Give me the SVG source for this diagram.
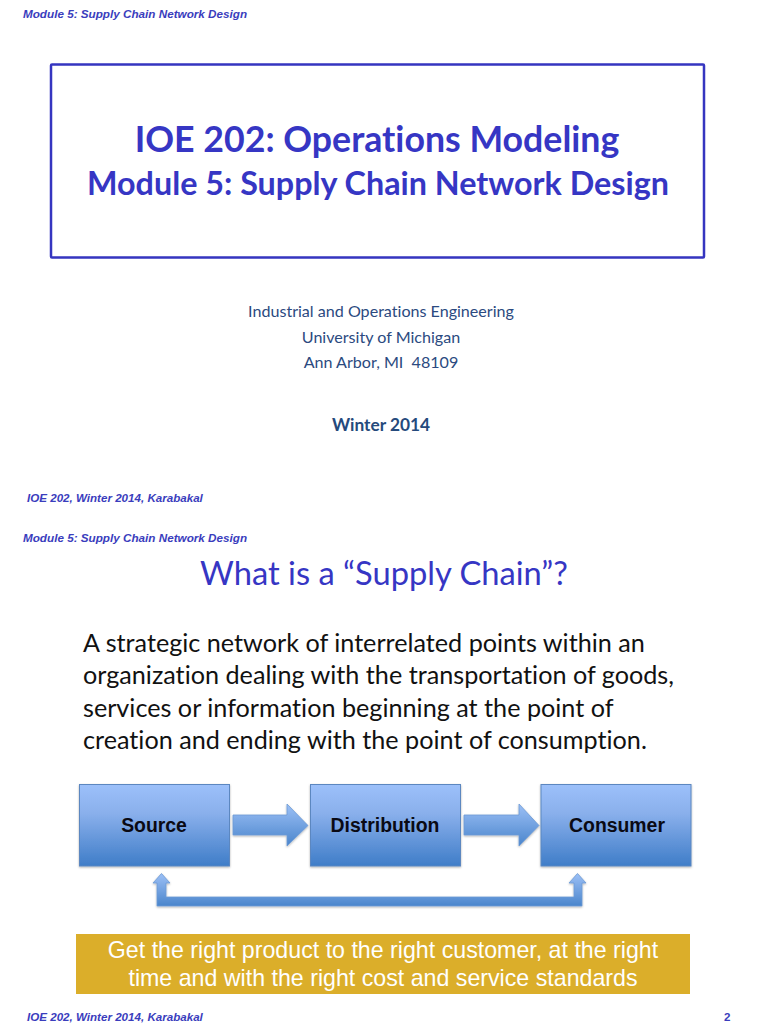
<svg xmlns="http://www.w3.org/2000/svg" width="768" height="1024" viewBox="0 0 768 1024">
<style>
text{font-variant-ligatures:none}
.hdr{font:italic bold 11.7px "Liberation Sans",Arial,sans-serif;fill:#3a3dbd}
.ftr{font:italic bold 11.6px "Liberation Sans",Arial,sans-serif;fill:#3a3dbd}
.t{font-family:Lato,sans-serif;text-anchor:middle}
.sub{font-size:16.1px;fill:#2b4a80}
.body{font-family:Lato,sans-serif;font-size:25.2px;fill:#111}
.box{fill:url(#g);stroke:#5b87c0;stroke-width:1;filter:url(#s)}
.lbl{font:bold 19.4px "Liberation Sans",Arial,sans-serif;fill:#0a0a14;text-anchor:middle}
.arr{fill:url(#g2);stroke:#6d9bd4;stroke-width:.8;filter:url(#s)}
.gold{font:23.2px "Liberation Sans",Arial,sans-serif;fill:#fff;text-anchor:middle}
</style>
<defs>
<linearGradient id="g" x1="0" y1="0" x2="0" y2="1"><stop offset="0" stop-color="#9cc0fa"/><stop offset=".35" stop-color="#8ab0ec"/><stop offset="1" stop-color="#3f7dc8"/></linearGradient>
<linearGradient id="g2" x1="0" y1="0" x2="0" y2="1"><stop offset="0" stop-color="#9cc0f6"/><stop offset="1" stop-color="#4a85cc"/></linearGradient>
<filter id="s" x="-5%" y="-5%" width="110%" height="115%"><feDropShadow dx="0" dy="1" stdDeviation="1" flood-color="#000" flood-opacity=".3"/></filter>
</defs>
<rect width="768" height="1024" fill="#fff"/>
<text class="hdr" x="23" y="18">Module 5: Supply Chain Network Design</text>
<rect x="51" y="64.500" width="653" height="193" fill="none" stroke="#3535c0" stroke-width="2.500" rx="1"/>
<text class="t" x="377" y="152" font-size="35.700" font-weight="700" fill="#3636c4">IOE 202: Operations Modeling</text>
<text class="t" x="378" y="195" font-size="32.300" font-weight="700" fill="#3636c4">Module 5: Supply Chain Network Design</text>
<text class="t sub" x="381" y="317">Industrial and Operations Engineering</text>
<text class="t sub" x="381" y="343">University of Michigan</text>
<text class="t sub" x="381" y="368" xml:space="preserve">Ann Arbor, MI  48109</text>
<text class="t" x="381" y="431" font-size="17.300" font-weight="700" fill="#254a7c">Winter 2014</text>
<text class="ftr" x="27" y="502">IOE 202, Winter 2014, Karabakal</text>
<text class="hdr" x="23" y="542">Module 5: Supply Chain Network Design</text>
<text class="t" x="384" y="585" font-size="32.700" fill="#3636c4">What is a “Supply Chain”?</text>
<text class="body" x="83" y="652">A strategic network of interrelated points within an</text>
<text class="body" x="83" y="684">organization dealing with the transportation of goods,</text>
<text class="body" x="83" y="717">services or information beginning at the point of</text>
<text class="body" x="83" y="749">creation and ending with the point of consumption.</text>
<g id="connectors">
<path class="arr" d="M233 815H287V804L308 825.500L287 846V835H233Z"/>
<path class="arr" d="M464 815H519V804L539 825.500L519 846V835H464Z"/>
<path class="arr" d="M157 897V883H153L161.500 873.500L170 883H166V897H574V883H569L577.500 873.500L586 883H582V906H157Z"/>
</g>
<g id="source"><rect class="box" x="79.500" y="784.500" width="150" height="81.500"/><text class="lbl" x="154" y="832">Source</text></g>
<g id="distribution"><rect class="box" x="310.500" y="784.500" width="150" height="81.500"/><text class="lbl" x="385" y="832">Distribution</text></g>
<g id="consumer"><rect class="box" x="541" y="784.500" width="150" height="81.500"/><text class="lbl" x="617" y="832">Consumer</text></g>
<g id="banner"><rect x="76" y="934" width="614" height="60" fill="#dbae2a"/>
<text class="gold" x="383" y="958">Get the right product to the right customer, at the right</text>
<text class="gold" x="383" y="986">time and with the right cost and service standards</text></g>
<text class="ftr" x="27" y="1021">IOE 202, Winter 2014, Karabakal</text>
<text class="ftr" x="724" y="1021" style="font-style:normal">2</text>
</svg>
